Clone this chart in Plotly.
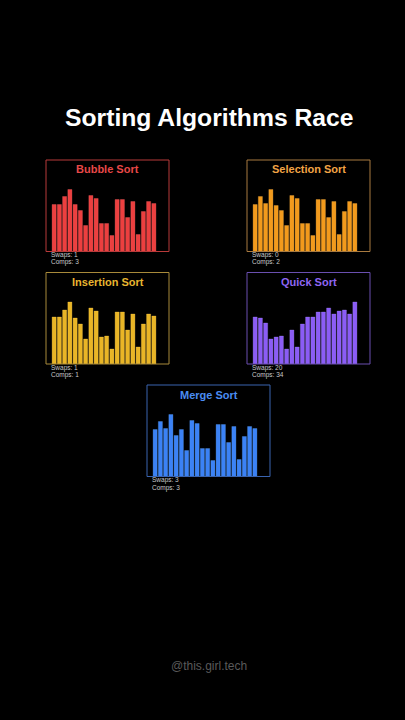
import plotly.graph_objects as go

W, H = 405, 720

# ---- data ----
algorithms = ["Bubble Sort", "Selection Sort", "Insertion Sort", "Quick Sort", "Merge Sort"]
bubble_vals = [47, 47, 55, 62, 47, 41, 26, 56, 53, 28, 28, 16, 52, 52, 34, 50, 17, 40, 50, 48]
selection_vals = [47, 55, 48, 62, 46, 41, 26, 56, 53, 28, 28, 16, 52, 52, 34, 50, 17, 40, 50, 48]
insertion_vals = [47, 47, 54, 62, 46, 40, 25, 56, 53, 27, 28, 15, 52, 52, 34, 50, 17, 40, 50, 48]
quick_vals = [47, 46, 41, 25, 27, 28, 15, 34, 17, 40, 47, 47, 52, 52, 56, 50, 53, 54, 50, 62]
merge_vals = [47, 55, 48, 62, 41, 47, 26, 56, 53, 28, 28, 16, 52, 52, 34, 50, 17, 40, 50, 48]
swaps = [1, 0, 1, 20, 3]
comps = [3, 2, 1, 34, 3]

series = [bubble_vals, selection_vals, insertion_vals, quick_vals, merge_vals]

# ---- styling ----
bar_colors = ["#ec3f3f", "#f29a1c", "#e9b526", "#8b5cf6", "#3b82f6"]
bar_line = ["#ff6b6b", "#ffb347", "#ffd04d", "#a78bfa", "#60a5fa"]
title_colors = ["#e84848", "#f2a445", "#e8b530", "#8f66f2", "#4a8cf2"]
border_colors = ["#b83a3a", "#a87a40", "#a88a3a", "#6a4fb0", "#3a64b0"]
lefts = [46, 247, 46, 247, 147]
tops = [160, 160, 272.5, 272.5, 385]
BW, BH = 123, 91.5

fig = go.Figure()
shapes, annotations = [], []
layout_axes = {}

for i, name in enumerate(algorithms):
    n = i + 1
    xa = "x" if n == 1 else f"x{n}"
    ya = "y" if n == 1 else f"y{n}"
    xkey = "xaxis" if n == 1 else f"xaxis{n}"
    ykey = "yaxis" if n == 1 else f"yaxis{n}"
    L, T = lefts[i], tops[i]
    vals = series[i]
    fig.add_trace(go.Bar(
        x=list(range(len(vals))), y=vals, xaxis=xa, yaxis=ya,
        marker=dict(color=bar_colors[i], line=dict(color=bar_line[i], width=0.3)),
        showlegend=False, hoverinfo="skip"))
    layout_axes[xkey] = dict(domain=[L / W, (L + BW) / W], range=[-1.55, 21.88],
                             visible=False, fixedrange=True, anchor=ya)
    layout_axes[ykey] = dict(domain=[1 - (T + BH) / H, 1 - T / H], range=[0, BH],
                             visible=False, fixedrange=True, anchor=xa)
    shapes.append(dict(type="rect", xref="paper", yref="paper",
                       x0=L / W, x1=(L + BW) / W, y0=1 - (T + BH) / H, y1=1 - T / H,
                       line=dict(color=border_colors[i], width=1), fillcolor="rgba(0,0,0,0)"))
    annotations.append(dict(text=f"<b>{name}</b>", xref="paper", yref="paper",
                            x=(L + BW / 2) / W, y=1 - (T + 9.5) / H, xanchor="center",
                            yanchor="middle", showarrow=False,
                            font=dict(size=11, color=title_colors[i], family="Liberation Sans, Arial")))
    annotations.append(dict(text=f"Swaps: {swaps[i]}", xref="paper", yref="paper",
                            x=(L + 3) / W, y=1 - (T + BH + 3.5) / H, xanchor="left",
                            yanchor="middle", showarrow=False,
                            font=dict(size=6.5, color="#c8c8c8", family="Liberation Sans, Arial")))
    annotations.append(dict(text=f"Comps: {comps[i]}", xref="paper", yref="paper",
                            x=(L + 3) / W, y=1 - (T + BH + 11) / H, xanchor="left",
                            yanchor="middle", showarrow=False,
                            font=dict(size=6.5, color="#c8c8c8", family="Liberation Sans, Arial")))

annotations.append(dict(text="<b>Sorting Algorithms Race</b>", xref="paper", yref="paper",
                        x=209 / W, y=1 - 117.5 / H, xanchor="center", yanchor="middle",
                        showarrow=False,
                        font=dict(size=24.7, color="#ffffff", family="Liberation Sans, Arial")))
annotations.append(dict(text="@this.girl.tech", xref="paper", yref="paper",
                        x=209 / W, y=1 - 666 / H, xanchor="center", yanchor="middle",
                        showarrow=False,
                        font=dict(size=12, color="#5a5a5a", family="Liberation Sans, Arial")))

fig.update_layout(
    width=W, height=H, margin=dict(l=0, r=0, t=0, b=0),
    paper_bgcolor="#000000", plot_bgcolor="#000000",
    bargap=0.22, shapes=shapes, annotations=annotations, **layout_axes)

fig.write_html("out.html", config={"displayModeBar": False},
               post_script="document.body.style.margin='0';document.body.style.background='#000';")
